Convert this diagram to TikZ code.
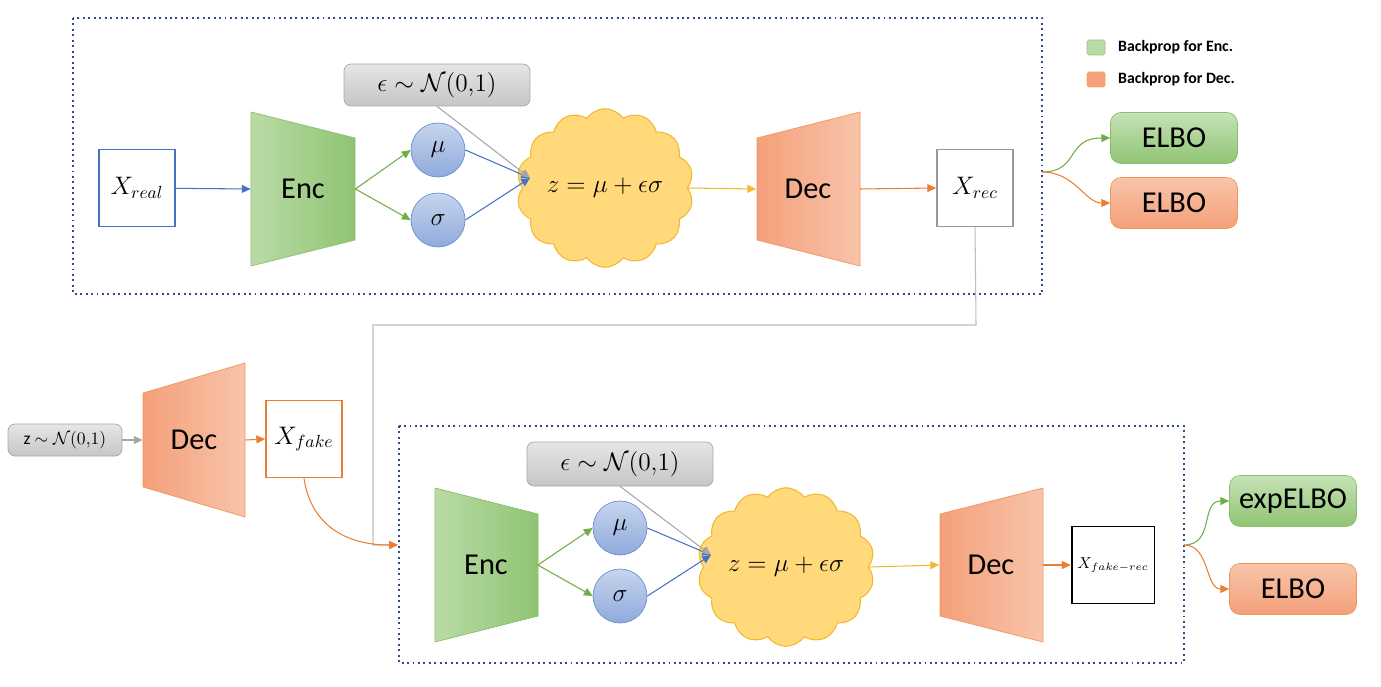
\documentclass[tikz,border=0pt]{standalone}
\usepackage{fontspec}
\setmainfont{Carlito}
\usetikzlibrary{shapes.symbols,arrows.meta}
\definecolor{encL}{HTML}{B9DBA6}
\definecolor{encR}{HTML}{8FC472}
\definecolor{encD}{HTML}{70AD47}
\definecolor{decL}{HTML}{F4A07A}
\definecolor{decR}{HTML}{F8C4AA}
\definecolor{decD}{HTML}{ED7D31}
\definecolor{bluD}{HTML}{4472C4}
\definecolor{cldF}{HTML}{FFD97A}
\definecolor{cldD}{HTML}{F2B830}
\definecolor{navy}{HTML}{2F4A8A}
\tikzset{
  arr/.style={-{Triangle[length=5pt,width=4.5pt]}, line width=0.6pt},
  frame/.style={navy, dotted, line width=1.1pt},
  xbox/.style={draw, line width=1pt, fill=white, minimum width=1.52cm, minimum height=1.54cm, font=\Large},
  gbox/.style={draw=gray!70, rounded corners=4pt, top color=gray!20, bottom color=gray!45},
  circ/.style={circle, draw=bluD!80, top color=bluD!30, bottom color=bluD!60, minimum size=1.08cm, font=\Large},
  cld/.style={cloud, cloud puffs=14, cloud puff arc=110, aspect=1.15, draw=cldD, line width=0.6pt, fill=cldF, inner sep=0pt, minimum width=2.85cm, minimum height=2.5cm, font=\Large},
  elbo/.style={draw, rounded corners=6pt, minimum width=2.54cm, minimum height=1.02cm, font=\LARGE},
  lab/.style={font=\LARGE}
}
\begin{document}
\begin{tikzpicture}[x=0.02cm, y=-0.02cm]
\useasboundingbox (0,0) rectangle (1381,686);

% Legende
\filldraw[draw=encD!70, fill=encL, rounded corners=1pt] (1087,40) rectangle (1105,55);
\node[anchor=west, font=\small\bfseries] (legE) at (1112,47) {Backprop for Enc.};
\filldraw[draw=decD!70, fill=decL, rounded corners=1pt] (1087,72) rectangle (1105,87);
\node[anchor=west, font=\small\bfseries] (legD) at (1112,79) {Backprop for Dec.};

% Bloc du haut
\draw[frame] (73,18) rectangle (1042,294);
\node[xbox, draw=bluD] (xreal) at (137,188) {$X_{real}$};
\shade[left color=encL, right color=encR, draw=encD!80] (251,112) -- (355,138) -- (355,240) -- (251,266) -- cycle;
\node[lab, minimum width=2.08cm, minimum height=3.08cm] (enc1) at (303,189) {Enc};
\node[circ] (mu1) at (438,150) {$\mu$};
\node[circ] (sig1) at (438,220) {$\sigma$};
\node[gbox, minimum width=3.72cm, minimum height=0.84cm, font=\Large] (eps1) at (437,85) {$\epsilon\sim\mathcal{N}(0{,}1)$};
\node[cld] (cl1) at (605,188) {$z=\mu+\epsilon\sigma$};
\coordinate (in1) at (530,178);
\shade[left color=decL, right color=decR, draw=decD!80] (757,138) -- (860,112) -- (860,266) -- (757,240) -- cycle;
\node[lab, minimum width=2.06cm, minimum height=3.08cm] (dec1) at (808,189) {Dec};
\node[xbox, draw=gray!80] (xrec) at (975,188) {$X_{rec}$};
\node[elbo, draw=encD!80, top color=encL!80, bottom color=encR] (elboE1) at (1174,138) {ELBO};
\node[elbo, draw=decD!80, top color=decR, bottom color=decL] (elboD1) at (1174,203) {ELBO};
\coordinate (br1) at (1042,172);

\draw[arr, bluD] (xreal) -- (enc1.west);
\draw[arr, encD] (enc1.east) -- (mu1.west);
\draw[arr, encD] (enc1.east) -- (sig1.west);
\draw[arr, bluD] (mu1.east) -- (in1);
\draw[arr, bluD] (sig1.east) -- (in1);
\draw[arr, gray!70] (eps1.south) -- (in1);
\draw[arr, cldD] (cl1.east) -- (dec1.west);
\draw[arr, decD] (dec1.east) -- (xrec.west);
\draw[arr, encD] (br1) .. controls (1080,172) and (1065,138) .. (elboE1.west);
\draw[arr, decD] (br1) .. controls (1075,172) and (1085,203) .. (elboD1.west);

% Bloc du bas
\node[gbox, minimum width=2.28cm, minimum height=0.64cm] (zin) at (65,440) {z $\sim\mathcal{N}(0{,}1)$};
\shade[left color=decL, right color=decR, draw=decD!80] (143,393) -- (245,363) -- (245,517) -- (143,487) -- cycle;
\node[lab, minimum width=2.04cm, minimum height=3.08cm] (dec2) at (194,440) {Dec};
\node[xbox, draw=decD] (xfake) at (304,439) {$X_{fake}$};
\draw[arr, gray!70] (zin) -- (dec2.west);
\draw[arr, decD] (dec2.east) -- (xfake.west);

\draw[frame] (399,426) rectangle (1184,663);
\coordinate (in2) at (398,545);
\draw[arr, gray!50] (xrec.south) -- (976,325) -- (373,325) -- (373,545) -- (in2);
\draw[arr, decD] (xfake.south) .. controls (310,520) and (340,545) .. (in2);

\shade[left color=encL, right color=encR, draw=encD!80] (435,488) -- (538,514) -- (538,616) -- (435,642) -- cycle;
\node[lab, minimum width=2.06cm, minimum height=3.08cm] (enc2) at (486,565) {Enc};
\node[circ] (mu2) at (620,528) {$\mu$};
\node[circ] (sig2) at (620,596) {$\sigma$};
\node[gbox, minimum width=3.72cm, minimum height=0.88cm, font=\Large] (eps2) at (620,464) {$\epsilon\sim\mathcal{N}(0{,}1)$};
\node[cld] (cl2) at (786,567) {$z=\mu+\epsilon\sigma$};
\coordinate (in3) at (711,555);
\shade[left color=decL, right color=decR, draw=decD!80] (940,514) -- (1043,488) -- (1043,642) -- (940,616) -- cycle;
\node[lab, minimum width=2.06cm, minimum height=3.08cm] (dec3) at (991,565) {Dec};
\node[xbox, draw=black, font=\small] (xfr) at (1113,565) {$X_{fake-rec}$};
\node[elbo, draw=encD!80, top color=encL!80, bottom color=encR] (elboE2) at (1293,501) {expELBO};
\node[elbo, draw=decD!80, top color=decR, bottom color=decL] (elboD2) at (1293,589) {ELBO};
\coordinate (br2) at (1184,545);

\draw[arr, encD] (enc2.east) -- (mu2.west);
\draw[arr, encD] (enc2.east) -- (sig2.west);
\draw[arr, bluD] (mu2.east) -- (in3);
\draw[arr, bluD] (sig2.east) -- (in3);
\draw[arr, gray!70] (eps2.south) -- (in3);
\draw[arr, cldD] (cl2.east) -- (dec3.west);
\draw[arr, decD] (dec3.east) -- (xfr.west);
\draw[arr, encD] (br2) .. controls (1215,545) and (1200,501) .. (elboE2.west);
\draw[arr, decD] (br2) .. controls (1210,545) and (1205,589) .. (elboD2.west);
\end{tikzpicture}
\end{document}
